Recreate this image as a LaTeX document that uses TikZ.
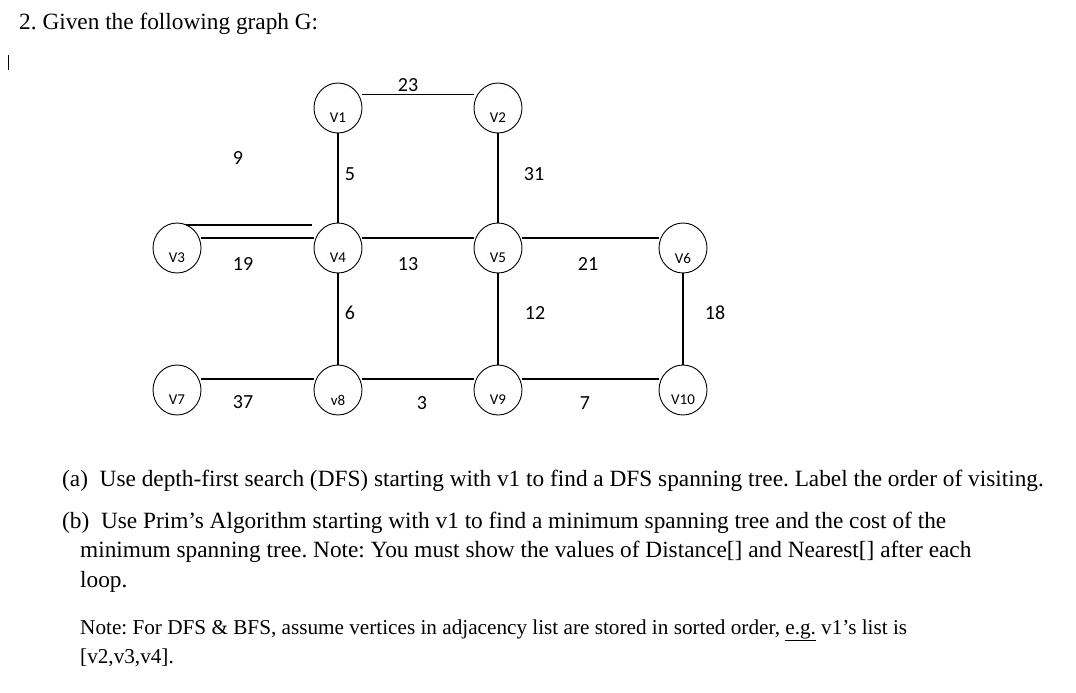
\documentclass[tikz,border=0pt]{standalone}
\usepackage{fontspec}
\usetikzlibrary{shapes.geometric}
\setmainfont{Liberation Serif}
\newfontfamily\calfont{Carlito}
\begin{document}
\frenchspacing
\begin{tikzpicture}[x=1pt,y=-1pt,
  vtx/.style={draw,ellipse,minimum width=48pt,minimum height=50pt,inner sep=0pt,line width=0.9pt},
  vl/.style={font=\calfont\fontsize{15}{15}\selectfont},
  wl/.style={font=\calfont\fontsize{20}{20}\selectfont},
  ed/.style={line width=1.4pt},
  tx/.style={anchor=base west,inner sep=0pt,font=\fontsize{23.3}{23.3}\selectfont}]
\useasboundingbox (0,0) rectangle (1076,693);
\foreach \n/\x/\y/\l in {1/338/108/V1,2/498/108/V2,3/177/248/V3,4/338/248/V4,5/498/248/V5,6/683/248/V6,7/177/390/V7,8/338/390/v8,9/498/390/V9,10/683/390/V10}{
  \node[vtx] (v\n) at (\x,\y) {};
  \node[vl] at (\x,\y+10) {\l};
}
\draw[line width=0.8pt] (v1.east|-0,94) -- (v2.west|-0,94);
\draw[ed] (v1) -- (v4);
\draw[ed] (v2) -- (v5);
\draw[ed] (v4) -- (v8);
\draw[ed] (v5) -- (v9);
\draw[ed] (v6) -- (v10);
\draw[ed] (v4.east|-0,238) -- (v5.west|-0,238);
\draw[ed] (v3.east|-0,238) -- (v4.west|-0,238);
\coordinate (t1) at (186,225); \coordinate (t2) at (312,225);
\draw[ed] (t1) -- (t2);
\draw[ed] (v5.east|-0,238) -- (v6.west|-0,238);
\draw[ed] (v7.east|-0,379) -- (v8.west|-0,379);
\draw[ed] (v8.east|-0,379) -- (v9.west|-0,379);
\draw[ed] (v9.east|-0,379) -- (v10.west|-0,379);
\foreach \t/\x/\y in {23/408/85,9/238/158,5/350/174,31/534/174,19/243/264,13/408/264,21/588/264,6/350/313,12/535/313,18/715/313,37/243/402,3/422/403,7/585/403}
  \node[wl] at (\x,\y) {\t};
\draw[line width=0.6pt] (8,55) -- (8,70);
\node[tx] at (19,30) {2.\ Given the following graph G:};
\node[tx] at (62,486) {(a)\ \ Use depth-first search (DFS) starting with v1 to find a DFS spanning tree. Label the order of visiting.};
\node[tx] at (62,528) {(b)\ \ Use Prim's Algorithm starting with v1 to find a minimum spanning tree and the cost of the};
\node[tx] at (80,557) {minimum spanning tree. Note: You must show the values of Distance[] and Nearest[] after each};
\node[tx] at (80,587) {loop.};
\node[tx,font=\fontsize{21.2}{21.2}\selectfont] at (80,634) {Note: For DFS \& BFS, assume vertices in adjacency list are stored in sorted order, \underline{e.g.} v1's list is};
\node[tx,font=\fontsize{21.2}{21.2}\selectfont] at (80,663) {[v2,v3,v4].};
\end{tikzpicture}
\end{document}
